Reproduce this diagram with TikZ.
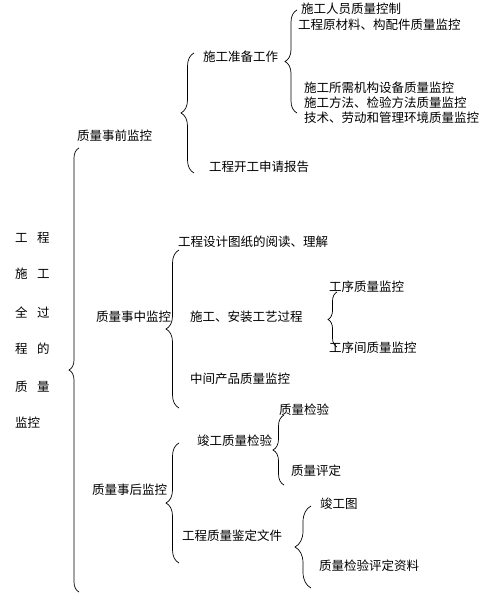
\documentclass[tikz,border=0pt]{standalone}
\usepackage{fontspec}
\setmainfont{Noto Sans CJK SC}
\usetikzlibrary{decorations.pathreplacing}

\begin{document}
\begin{tikzpicture}[x=1pt,y=-1pt,
  txt/.style={anchor=west,inner sep=0pt,font=\fontsize{12.5}{14}\selectfont},
  brc/.style={decorate,decoration={brace,amplitude=#1},line width=0.7pt}]
\useasboundingbox (0,0) rectangle (496,593);

  %Title column
  \foreach \a/\b/\y [count=\i] in {工/程/238, 施/工/274, 全/过/313, 程/的/349, 质/量/387}{
    \node[txt] (t\i a) at (15,\y) {\a};
    \node[txt] (t\i b) at (37,\y) {\b};
  }
  \node[txt] (t6) at (15,423) {监控};

  \coordinate (main-top) at (79,148);
  \coordinate (main-bot) at (79,592);
  \draw [brc=10pt] (main-bot) -- (main-top);

  \node[txt] (pre) at (77,136) {质量事前监控};
  \node[txt] (mid) at (96,317) {质量事中监控};
  \node[txt] (post) at (92,490) {质量事后监控};

  %Before
  \coordinate (pre-top) at (194,53);
  \coordinate (pre-bot) at (194,173);
  \draw [brc=13pt] (pre-bot) -- (pre-top);
  \node[txt] (prep) at (203,57) {施工准备工作};
  \node[txt] (apply) at (209,167) {工程开工申请报告};

  \coordinate (prep-top) at (297,10);
  \coordinate (prep-bot) at (297,113);
  \draw [brc=12pt] (prep-bot) -- (prep-top);
  \node[txt] (staff) at (301,9) {施工人员质量控制};
  \node[txt] (mat) at (298,25) {工程原材料、构配件质量监控};
  \node[txt] (mach) at (304,88) {施工所需机构设备质量监控};
  \node[txt] (meth) at (304,103) {施工方法、检验方法质量监控};
  \node[txt] (env) at (304,118) {技术、劳动和管理环境质量监控};

  %During
  \coordinate (mid-top) at (179,250);
  \coordinate (mid-bot) at (179,408);
  \draw [brc=13pt] (mid-bot) -- (mid-top);
  \node[txt] (draw) at (178,242) {工程设计图纸的阅读、理解};
  \node[txt] (proc) at (190,317) {施工、安装工艺过程};
  \node[txt] (inter) at (190,379) {中间产品质量监控};

  \coordinate (proc-top) at (337,292);
  \coordinate (proc-bot) at (337,347);
  \draw [brc=9pt] (proc-bot) -- (proc-top);
  \node[txt] (step) at (329,287) {工序质量监控};
  \node[txt] (between) at (329,348) {工序间质量监控};

  %After
  \coordinate (post-top) at (179,443);
  \coordinate (post-bot) at (179,563);
  \draw [brc=13pt] (post-bot) -- (post-top);
  \node[txt] (done) at (197,441) {竣工质量检验};
  \node[txt] (docs) at (182,536) {工程质量鉴定文件};

  \coordinate (done-top) at (284,415);
  \coordinate (done-bot) at (284,485);
  \draw [brc=11pt] (done-bot) -- (done-top);
  \node[txt] (check) at (279,410) {质量检验};
  \node[txt] (rate) at (291,471) {质量评定};

  \coordinate (docs-top) at (311,506);
  \coordinate (docs-bot) at (311,588);
  \draw [brc=16pt] (docs-bot) -- (docs-top);
  \node[txt] (plan) at (320,504) {竣工图};
  \node[txt] (record) at (319,566) {质量检验评定资料};

\end{tikzpicture}
\end{document}
